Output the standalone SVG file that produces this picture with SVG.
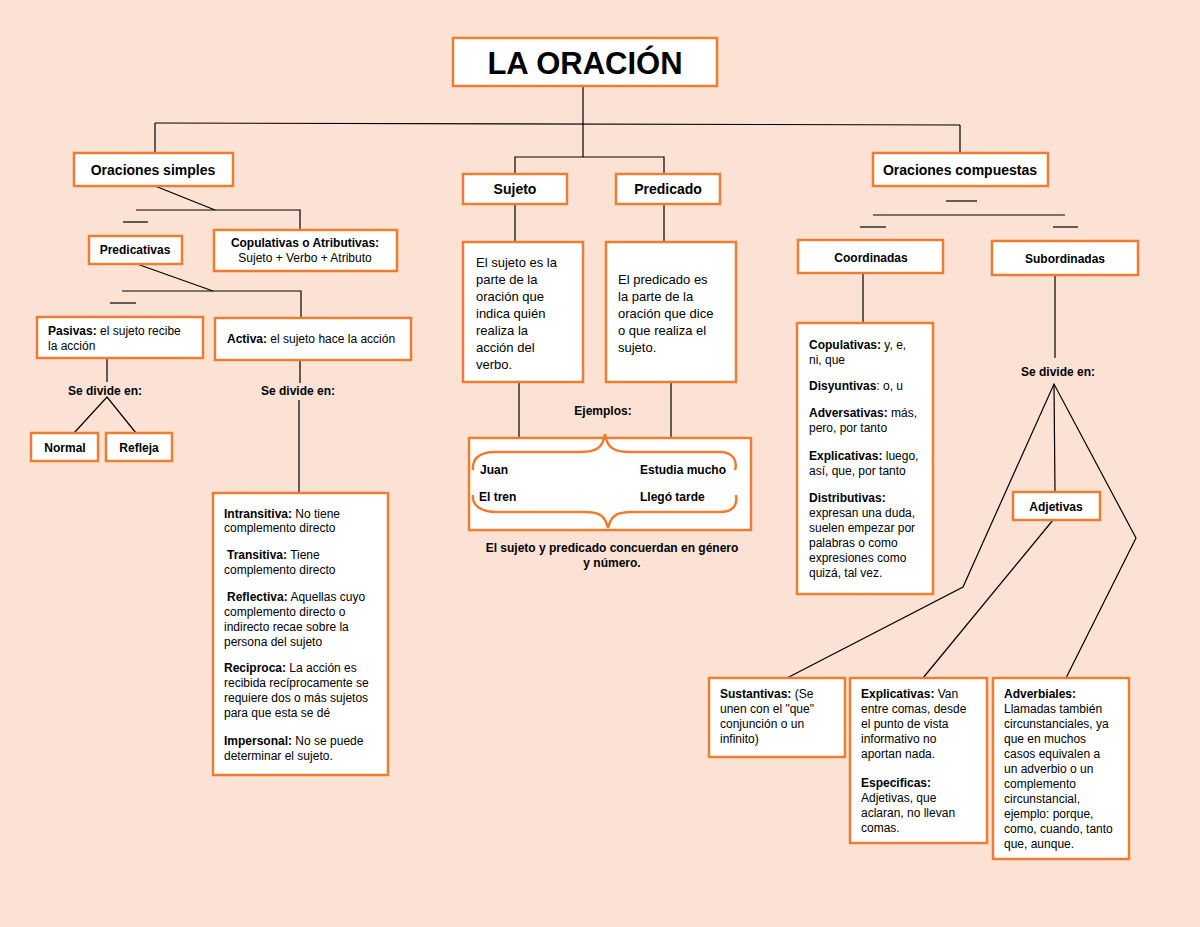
<svg xmlns="http://www.w3.org/2000/svg" width="1200" height="927" viewBox="0 0 1200 927">
<style>
.b{fill:#fff;stroke:#ED7D31;stroke-width:2.5}
text{font-family:"Liberation Sans",Arial,sans-serif;fill:#000}
.t{font-size:12px}
.h{font-size:14px;font-weight:bold}
.s{font-size:12px;font-weight:bold}
.m{font-size:13px}
.c line,.c polyline{stroke:#000;stroke-width:1.2;fill:none}
</style>
<rect width="1200" height="927" fill="#FBE2D5"/>
<g class="c" id="connectors">
<line x1="583" y1="86" x2="583" y2="157"/>
<line x1="155" y1="123" x2="960" y2="125"/>
<line x1="155" y1="123" x2="155" y2="153"/>
<line x1="960" y1="125" x2="960" y2="153"/>
<polyline points="515,174 515,157 664,157 664,174"/>
<polyline points="155,186 215,210"/>
<polyline points="136,210 300,210 300,230"/>
<line x1="123" y1="222" x2="148" y2="222"/>
<polyline points="137,264 213,291"/>
<polyline points="122,291 301,291 301,318"/>
<line x1="110" y1="303" x2="136" y2="303"/>
<line x1="107" y1="358" x2="107" y2="382"/>
<polyline points="74,433 107,397 136,433"/>
<line x1="300" y1="360" x2="300" y2="383"/>
<line x1="299" y1="400" x2="299" y2="493"/>
<line x1="515" y1="204" x2="515" y2="242"/>
<line x1="664" y1="204" x2="664" y2="242"/>
<line x1="519" y1="382" x2="519" y2="439"/>
<line x1="671" y1="382" x2="671" y2="439"/>
<line x1="946" y1="201" x2="977" y2="201"/>
<line x1="873" y1="215" x2="1065" y2="215"/>
<line x1="860" y1="227" x2="886" y2="227"/>
<line x1="1053" y1="227" x2="1078" y2="227"/>
<line x1="863" y1="273" x2="863" y2="323"/>
<line x1="1055" y1="275" x2="1055" y2="358"/>
<polyline points="787,678 963,587 1054,384 1136,538 1066,678"/>
<line x1="1054" y1="384" x2="1055" y2="492"/>
<line x1="1053" y1="520" x2="923" y2="678"/>
</g>
<g id="title"><rect class="b" x="453" y="38" width="264" height="48"/><text x="585" y="74" font-size="31" font-weight="bold" text-anchor="middle">LA ORACIÓN</text></g>
<g id="simples"><rect class="b" x="74" y="153" width="159" height="33"/><text class="h" x="153" y="175" text-anchor="middle">Oraciones simples</text></g>
<g id="predicativas"><rect class="b" x="89" y="236" width="93" height="28"/><text class="s" x="135" y="254" text-anchor="middle">Predicativas</text></g>
<g id="copulativas"><rect class="b" x="214" y="230" width="183" height="41"/><text class="s" x="305" y="247" text-anchor="middle">Copulativas o Atributivas:</text><text class="t" x="305" y="262" text-anchor="middle">Sujeto + Verbo + Atributo</text></g>
<g id="pasivas"><rect class="b" x="37" y="317" width="166" height="41"/><text class="t" x="48" y="335"><tspan font-weight="bold">Pasivas:</tspan>  el sujeto recibe</text><text class="t" x="48" y="350">la acción</text></g>
<g id="activa"><rect class="b" x="215" y="318" width="196" height="42"/><text class="t" x="227" y="343"><tspan font-weight="bold">Activa:</tspan> el sujeto hace la acción</text></g>
<text class="s" x="105" y="395" text-anchor="middle">Se divide en:</text>
<text class="s" x="298" y="395" text-anchor="middle">Se divide en:</text>
<g id="normal"><rect class="b" x="31" y="433" width="67" height="28"/><text class="s" x="65" y="452" text-anchor="middle">Normal</text></g>
<g id="refleja"><rect class="b" x="106" y="433" width="66" height="28"/><text class="s" x="139" y="452" text-anchor="middle">Refleja</text></g>
<g id="intransitiva"><rect class="b" x="213" y="493" width="175" height="282"/>
<g class="t"><text x="224" y="518"><tspan font-weight="bold">Intransitiva:</tspan> No tiene</text><text x="224" y="532">complemento directo</text>
<text x="227" y="559"><tspan font-weight="bold">Transitiva:</tspan> Tiene</text><text x="224" y="574">complemento directo</text>
<text x="227" y="601"><tspan font-weight="bold">Reflectiva:</tspan> Aquellas cuyo</text><text x="224" y="616">complemento directo o</text><text x="224" y="631">indirecto recae sobre la</text><text x="224" y="646">persona del sujeto</text>
<text x="224" y="672"><tspan font-weight="bold">Reciproca:</tspan> La acción es</text><text x="224" y="687">recibida recíprocamente se</text><text x="224" y="702">requiere dos o más sujetos</text><text x="224" y="717">para que esta se dé</text>
<text x="224" y="745"><tspan font-weight="bold">Impersonal:</tspan> No se puede</text><text x="224" y="760">determinar el sujeto.</text></g></g>
<g id="sujeto"><rect class="b" x="463" y="174" width="104" height="30"/><text class="h" x="515" y="194" text-anchor="middle">Sujeto</text></g>
<g id="predicado"><rect class="b" x="616" y="174" width="104" height="30"/><text class="h" x="668" y="194" text-anchor="middle">Predicado</text></g>
<g id="sujetodef"><rect class="b" x="463" y="242" width="120" height="140"/>
<g class="m"><text x="476" y="267">El sujeto es la</text><text x="476" y="284">parte de la</text><text x="476" y="301">oración que</text><text x="476" y="318">indica quién</text><text x="476" y="335">realiza la</text><text x="476" y="352">acción del</text><text x="476" y="369">verbo.</text></g></g>
<g id="predicadodef"><rect class="b" x="606" y="242" width="130" height="140"/>
<g class="m"><text x="618" y="284">El predicado es</text><text x="618" y="301">la parte de la</text><text x="618" y="318">oración que dice</text><text x="618" y="335">o que realiza el</text><text x="618" y="352">sujeto.</text></g></g>
<text class="s" x="603" y="415" text-anchor="middle">Ejemplos:</text>
<g id="ejemplos"><rect class="b" x="469" y="438" width="282" height="92"/>
<path d="M605,434 C603,448 596,452 580,452 L495,452 C478,452 472,460 473,470 M605,434 C607,448 614,452 630,452 L720,452 C732,452 738,460 735,470 M473,495 C472,505 480,512 497,512 L585,512 C600,512 605,516 608,528 C611,516 616,512 632,512 L720,512 C732,512 738,506 736,495" fill="none" stroke="#ED7D31" stroke-width="2.5"/>
<text class="s" x="480" y="474">Juan</text><text class="s" x="640" y="474">Estudia mucho</text>
<text class="s" x="479" y="501">El tren</text><text class="s" x="640" y="501">Llegó tarde</text></g>
<text class="s" x="612" y="552" text-anchor="middle">El sujeto y predicado concuerdan en género</text>
<text class="s" x="612" y="567" text-anchor="middle">y número.</text>
<g id="compuestas"><rect class="b" x="873" y="153" width="175" height="33"/><text class="h" x="960" y="175" text-anchor="middle">Oraciones compuestas</text></g>
<g id="coordinadas"><rect class="b" x="798" y="240" width="145" height="33"/><text class="s" x="871" y="262" text-anchor="middle">Coordinadas</text></g>
<g id="subordinadas"><rect class="b" x="992" y="241" width="146" height="34"/><text class="s" x="1065" y="263" text-anchor="middle">Subordinadas</text></g>
<g id="coordlist"><rect class="b" x="797" y="323" width="136" height="271"/>
<g class="t"><text x="809" y="349"><tspan font-weight="bold">Copulativas:</tspan> y, e,</text><text x="809" y="364">ni, que</text>
<text x="809" y="390"><tspan font-weight="bold">Disyuntivas</tspan>: o, u</text>
<text x="809" y="417"><tspan font-weight="bold">Adversativas:</tspan> más,</text><text x="809" y="432">pero, por tanto</text>
<text x="809" y="460"><tspan font-weight="bold">Explicativas:</tspan> luego,</text><text x="809" y="475">así, que, por tanto</text>
<text x="809" y="502" font-weight="bold">Distributivas:</text><text x="809" y="517">expresan una duda,</text><text x="809" y="532">suelen empezar por</text><text x="809" y="547">palabras o como</text><text x="809" y="562">expresiones como</text><text x="809" y="577">quizá, tal vez.</text></g></g>
<text class="s" x="1058" y="376" text-anchor="middle">Se divide en:</text>
<g id="adjetivas"><rect class="b" x="1013" y="492" width="87" height="28"/><text class="s" x="1056" y="511" text-anchor="middle">Adjetivas</text></g>
<g id="sustantivas"><rect class="b" x="709" y="678" width="136" height="79"/>
<g class="t"><text x="720" y="698"><tspan font-weight="bold">Sustantivas:</tspan> (Se</text><text x="720" y="713">unen con el "que"</text><text x="720" y="728">conjunción o un</text><text x="720" y="743">infinito)</text></g></g>
<g id="explicativas"><rect class="b" x="850" y="678" width="137" height="165"/>
<g class="t"><text x="861" y="698"><tspan font-weight="bold">Explicativas:</tspan> Van</text><text x="861" y="713">entre comas, desde</text><text x="861" y="728">el punto de vista</text><text x="861" y="743">informativo no</text><text x="861" y="758">aportan nada.</text>
<text x="861" y="787" font-weight="bold">Especificas:</text><text x="861" y="802">Adjetivas, que</text><text x="861" y="817">aclaran, no llevan</text><text x="861" y="832">comas.</text></g></g>
<g id="adverbiales"><rect class="b" x="993" y="678" width="136" height="181"/>
<g class="t"><text x="1004" y="698" font-weight="bold">Adverbiales:</text><text x="1004" y="713">Llamadas también</text><text x="1004" y="728">circunstanciales, ya</text><text x="1004" y="743">que en muchos</text><text x="1004" y="758">casos equivalen a</text><text x="1004" y="773">un adverbio o un</text><text x="1004" y="788">complemento</text><text x="1004" y="803">circunstancial,</text><text x="1004" y="818">ejemplo: porque,</text><text x="1004" y="833">como, cuando, tanto</text><text x="1004" y="848">que, aunque.</text></g></g>
</svg>
